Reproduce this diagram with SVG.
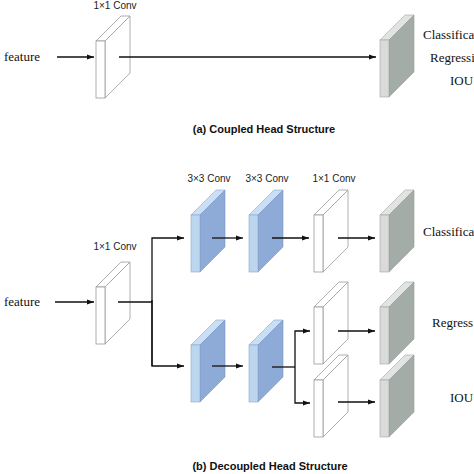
<svg xmlns="http://www.w3.org/2000/svg" width="474" height="474" viewBox="0 0 474 474">
<defs>
<style>
.lbl{font-family:"Liberation Serif","Times New Roman",serif;font-size:13px;fill:#111}
.cv{font-family:"Liberation Sans",Arial,sans-serif;font-size:10px;fill:#222}
.ttl{font-family:"Liberation Sans",Arial,sans-serif;font-size:11px;font-weight:bold;fill:#111}
.ln{fill:none;stroke:#111;stroke-width:1.3}
</style>
<marker id="ah" markerWidth="8" markerHeight="6" refX="7" refY="3" orient="auto" markerUnits="userSpaceOnUse">
<path d="M0,0.5 L7,3 L0,5.5 Z" fill="#111"/>
</marker>
<g id="boxW">
<polygon points="0,0 25,-25 34,-25 9,0" fill="#fff" stroke="#9a9a9a" stroke-width="0.8"/>
<polygon points="9,0 34,-25 34,32 9,57" fill="#fff" stroke="#9a9a9a" stroke-width="0.8"/>
<rect x="0" y="0" width="9" height="57" fill="#fff" stroke="#9a9a9a" stroke-width="0.8"/>
</g>
<g id="boxB">
<polygon points="0,0 25,-25 34,-25 9,0" fill="#c8dff5" stroke="#8aa5c8" stroke-width="0.6"/>
<polygon points="9,0 34,-25 34,32 9,57" fill="#8eaad6" stroke="#7b96c2" stroke-width="0.6"/>
<rect x="0" y="0" width="9" height="57" fill="#bcd6f0" stroke="#8aa5c8" stroke-width="0.6"/>
</g>
<g id="boxG">
<polygon points="0,0 25,-25 34,-25 9,0" fill="#e2e4e3" stroke="#a0a5a2" stroke-width="0.6"/>
<polygon points="9,0 34,-25 34,32 9,57" fill="#a4aca8" stroke="#949c98" stroke-width="0.6"/>
<rect x="0" y="0" width="9" height="57" fill="#d9dbda" stroke="#a0a5a2" stroke-width="0.6"/>
</g>
</defs>

<g id="a-labels">
<text class="cv" x="115" y="9" text-anchor="middle">1×1 Conv</text>
<text class="lbl" x="4" y="61">feature</text>
<text class="lbl" x="423" y="39">Classifica</text>
<text class="lbl" x="430" y="62">Regressi</text>
<text class="lbl" x="450" y="85">IOU</text>
<text class="ttl" x="264" y="133" text-anchor="middle">(a) Coupled Head Structure</text>
</g>
<g id="a-conv"><use href="#boxW" x="96" y="41"/></g>
<g id="a-out"><use href="#boxG" x="380" y="40"/></g>

<g id="b-labels">
<text class="cv" x="115" y="250" text-anchor="middle">1×1 Conv</text>
<text class="cv" x="209" y="182" text-anchor="middle">3×3 Conv</text>
<text class="cv" x="267" y="182" text-anchor="middle">3×3 Conv</text>
<text class="cv" x="334" y="182" text-anchor="middle">1×1 Conv</text>
<text class="lbl" x="4" y="306">feature</text>
<text class="lbl" x="423" y="236">Classifica</text>
<text class="lbl" x="432" y="327">Regress</text>
<text class="lbl" x="450" y="402">IOU</text>
<text class="ttl" x="270" y="470" text-anchor="middle">(b) Decoupled Head Structure</text>
</g>
<g id="b-conv"><use href="#boxW" x="96" y="287"/></g>
<g id="b-cls1"><use href="#boxB" x="191" y="215"/></g>
<g id="b-cls2"><use href="#boxB" x="249" y="215"/></g>
<g id="b-cls3"><use href="#boxW" x="314" y="215"/></g>
<g id="b-cls-out"><use href="#boxG" x="380" y="215"/></g>
<g id="b-reg1"><use href="#boxB" x="191" y="345"/></g>
<g id="b-reg2"><use href="#boxB" x="249" y="345"/></g>
<g id="b-reg3"><use href="#boxW" x="314" y="307"/></g>
<g id="b-reg-out"><use href="#boxG" x="380" y="307"/></g>
<g id="b-iou3"><use href="#boxW" x="314" y="380"/></g>
<g id="b-iou-out"><use href="#boxG" x="380" y="380"/></g>

<g id="connectors" class="ln">
<path d="M57,57 H94" marker-end="url(#ah)"/>
<path d="M119,57 H376" marker-end="url(#ah)"/>
<path d="M55,302 H94" marker-end="url(#ah)"/>
<path d="M118,302 H152"/>
<path d="M152,366 V238 H184" marker-end="url(#ah)"/>
<path d="M152,300 V366 H184" marker-end="url(#ah)"/>
<path d="M212,238 H243" marker-end="url(#ah)"/>
<path d="M272,238 H309" marker-end="url(#ah)"/>
<path d="M338,238 H375" marker-end="url(#ah)"/>
<path d="M212,366 H243" marker-end="url(#ah)"/>
<path d="M272,367 H295"/>
<path d="M295,367 V331 H310" marker-end="url(#ah)"/>
<path d="M295,367 V403 H310" marker-end="url(#ah)"/>
<path d="M338,331 H375" marker-end="url(#ah)"/>
<path d="M338,402 H375" marker-end="url(#ah)"/>
</g>
</svg>
